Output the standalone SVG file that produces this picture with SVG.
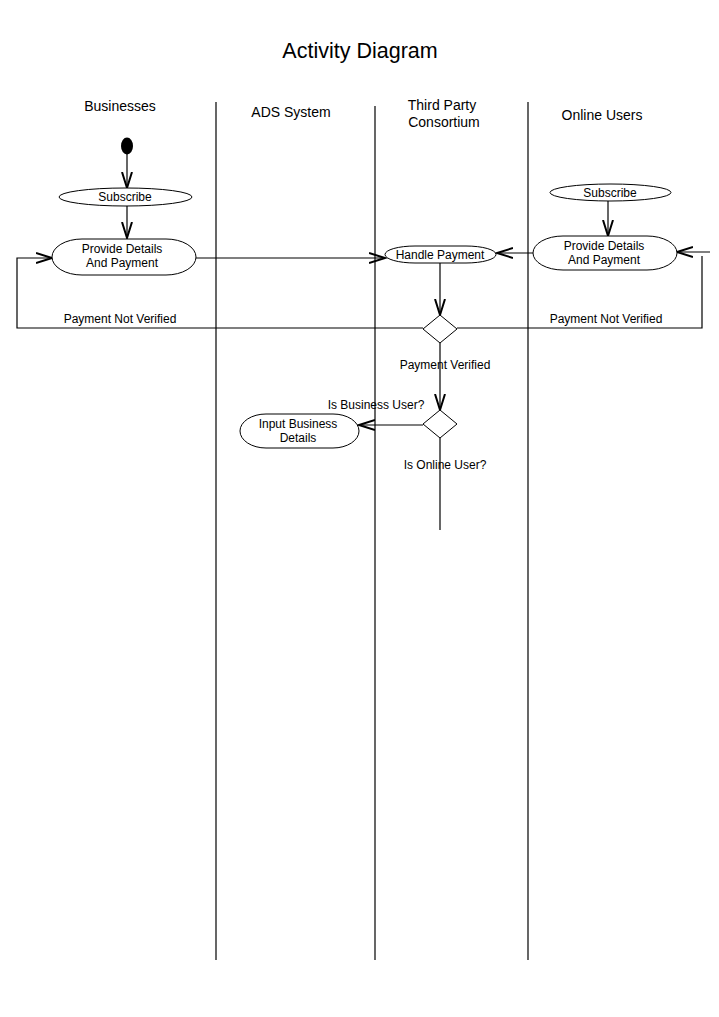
<svg xmlns="http://www.w3.org/2000/svg" width="719" height="1017" viewBox="0 0 719 1017">
<defs>
<marker id="ah" markerUnits="userSpaceOnUse" markerWidth="20" markerHeight="14" refX="16" refY="6" orient="auto" viewBox="0 0 20 12">
<path d="M0,1 L16,6 L0,11" fill="none" stroke="#000" stroke-width="2"/>
</marker>
<style>
text{font-family:"Liberation Sans",Arial,sans-serif;fill:#000}
.t{font-size:21.5px;text-anchor:middle}
.h{font-size:14px;text-anchor:middle}
.n{font-size:12px;text-anchor:middle}
.l{font-size:12px;text-anchor:middle}
.lane{stroke:#000;stroke-width:1.2;fill:none}
.node{fill:#fff;stroke:#000;stroke-width:1}
.c{stroke:#000;stroke-width:1.2;fill:none}
.ca{stroke:#000;stroke-width:1.2;fill:none;marker-end:url(#ah)}
</style>
</defs>
<rect width="719" height="1017" fill="#fff"/>
<text class="t" x="360" y="58">Activity Diagram</text>
<g id="lanes">
<line class="lane" x1="216" y1="102" x2="216" y2="960"/>
<line class="lane" x1="375" y1="106" x2="375" y2="960"/>
<line class="lane" x1="528" y1="102" x2="528" y2="960"/>
<text class="h" x="120" y="111">Businesses</text>
<text class="h" x="291" y="117">ADS System</text>
<text class="h" x="442" y="110">Third Party</text>
<text class="h" x="444" y="127">Consortium</text>
<text class="h" x="602" y="120">Online Users</text>
</g>
<g id="connectors">
<line class="ca" x1="127" y1="154" x2="127" y2="188"/>
<line class="ca" x1="127" y1="206" x2="127" y2="238"/>
<line class="ca" x1="196" y1="258" x2="385" y2="258"/>
<line class="ca" x1="608" y1="201" x2="608" y2="236"/>
<line class="ca" x1="533" y1="253" x2="497" y2="253"/>
<line class="ca" x1="440" y1="263" x2="440" y2="315"/>
<line class="ca" x1="440" y1="343" x2="440" y2="410"/>
<line class="ca" x1="423" y1="425" x2="359" y2="425"/>
<line class="c" x1="440" y1="438" x2="440" y2="530"/>
<polyline class="ca" points="423,328 17,328 17,258 52,258"/>
<polyline class="c" points="457,328 702,328 702,256"/>
<line class="ca" x1="710" y1="252" x2="677" y2="252"/>
<text class="l" x="120" y="323">Payment Not Verified</text>
<text class="l" x="606" y="323">Payment Not Verified</text>
<text class="l" x="445" y="369">Payment Verified</text>
<text class="l" x="376" y="409">Is Business User?</text>
<text class="l" x="445" y="469">Is Online User?</text>
</g>
<g id="start"><ellipse cx="127" cy="146" rx="6" ry="8.5" fill="#000"/></g>
<g id="b-subscribe"><rect class="node" x="59" y="188" width="133" height="18" rx="66" ry="9"/><text class="n" x="125" y="201">Subscribe</text></g>
<g id="b-provide"><rect class="node" x="52" y="239" width="144" height="36" rx="30" ry="18"/><text class="n" x="122" y="253">Provide Details</text><text class="n" x="122" y="267">And Payment</text></g>
<g id="handle"><rect class="node" x="385" y="246" width="111" height="17" rx="30" ry="8.5"/><text class="n" x="440" y="258.5">Handle Payment</text></g>
<g id="o-subscribe"><rect class="node" x="550" y="184" width="121" height="17" rx="60" ry="8.5"/><text class="n" x="610" y="197">Subscribe</text></g>
<g id="o-provide"><rect class="node" x="533" y="236" width="144" height="34" rx="30" ry="17"/><text class="n" x="604" y="250">Provide Details</text><text class="n" x="604" y="264">And Payment</text></g>
<g id="d1"><polygon class="node" points="440,315 457,329 440,343 423,329"/></g>
<g id="d2"><polygon class="node" points="440,410 457,424 440,438 423,424"/></g>
<g id="input"><rect class="node" x="240" y="414" width="119" height="34" rx="26" ry="17"/><text class="n" x="298" y="428">Input Business</text><text class="n" x="298" y="442">Details</text></g>
</svg>
